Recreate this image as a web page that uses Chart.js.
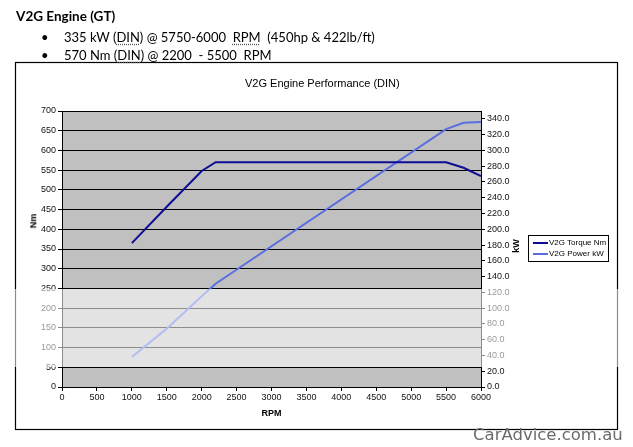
<!DOCTYPE html>
<html>
<head>
<meta charset="utf-8">
<script src="https://cdn.jsdelivr.net/npm/chart.js@4.4.1/dist/chart.umd.min.js"></script>
<style>
  html, body { margin: 0; padding: 0; background: #fff; }
  #wrap { position: relative; width: 633px; height: 447px; overflow: hidden; }
  #c { position: absolute; left: 0; top: 0; }
  .hdr { position: absolute; font-family: Lato, "Open Sans", sans-serif; font-size: 13px; color: #000; white-space: pre; line-height: 18px; }
  .dot { text-decoration: underline dotted #555; text-underline-offset: 2px; }
  .ax { position: absolute; font-family: "Liberation Sans", Arial, sans-serif; font-size: 9px; font-weight: bold; color: #000; transform: rotate(-90deg); transform-origin: center; white-space: pre; }
  #ctitle { position: absolute; left: 245px; top: 77px; font-family: "Liberation Sans", Arial, sans-serif; font-size: 11px; color: #000; white-space: pre; }
  #legend { position: absolute; left: 528px; top: 235px; width: 79px; height: 25px; border: 1px solid #000; background: #fff; font-family: "Liberation Sans", Arial, sans-serif; font-size: 8px; color: #000; }
  .li { position: absolute; left: 4px; height: 11px; line-height: 11px; white-space: pre; }
  .li span.sw { display: inline-block; width: 15px; height: 2px; vertical-align: middle; margin-right: 1px; }
  #brand { position: absolute; left: 473px; top: 425px; font-family: "DejaVu Sans", sans-serif; font-size: 16.5px; color: #6b6b6b; white-space: pre; }
</style>
</head>
<body>
<div id="wrap">
  <canvas id="c" width="633" height="447"></canvas>
  <div class="hdr" style="left:16px; top:7px; font-weight:bold; font-size:13.5px;">V2G Engine (GT)</div>
  <div class="hdr" style="left:41px; top:28px;">•</div>
  <div class="hdr" style="left:64px; top:28px;">335 kW (<span class="dot">DIN</span>) @ 5750-6000  <span class="dot">RPM</span>  (450hp &amp; 422lb/ft)</div>
  <div class="hdr" style="left:41px; top:46px;">•</div>
  <div class="hdr" style="left:64px; top:46px;">570 Nm (<span class="dot">DIN</span>) @ 2200  - 5500  RPM</div>
  <div id="ctitle">V2G Engine Performance (DIN)</div>
  <div class="ax" style="left:26px; top:216px;">Nm</div>
  <div class="ax" style="left:509px; top:241px;">kW</div>
  <div id="legend">
    <div class="li" style="top:1px;"><span class="sw" style="background:#0c0c94"></span>V2G Torque Nm</div>
    <div class="li" style="top:12px;"><span class="sw" style="background:#5a6ee0"></span>V2G Power kW</div>
  </div>
  <div id="brand">CarAdvice.com.au</div>
</div>
<script>
// ---- data ----
const rpmPoints   = [1000, 1500, 2000, 2200, 5500, 5750, 6000];
const torqueNm    = [365, 457, 548, 570, 570, 556, 535];
const powerKw     = [38, 74, 115, 131, 327, 335, 336];
const seriesNames = ['V2G Torque Nm', 'V2G Power kW'];
const kwTicks     = [0, 20, 40, 60, 80, 100, 120, 140, 160, 180, 200, 220, 240, 260, 280, 300, 320, 340];

const torqueData = rpmPoints.map((r, i) => ({ x: r, y: torqueNm[i] }));
const powerData  = rpmPoints.map((r, i) => ({ x: r, y: powerKw[i] }));

const tickFont = { family: '"Liberation Sans", Arial, sans-serif', size: 9 };

const decor = {
  id: 'decor',
  beforeDraw(chart) {
    const { ctx, chartArea: a } = chart;
    ctx.save();
    ctx.fillStyle = '#c0c0c0';
    ctx.fillRect(a.left, a.top, a.right - a.left, a.bottom - a.top);
    ctx.strokeStyle = '#000';
    ctx.lineWidth = 1.2;
    ctx.strokeRect(15.5, 62.5, 602, 367);
    ctx.restore();
  },
  afterDraw(chart) {
    const { ctx } = chart;
    ctx.save();
    ctx.fillStyle = 'rgba(255,255,255,0.55)';
    ctx.fillRect(0, 289, chart.width, 78);
    ctx.restore();
  }
};

new Chart(document.getElementById('c'), {
  type: 'line',
  data: {
    datasets: [
      { label: seriesNames[0], data: torqueData, yAxisID: 'y', borderColor: '#0c0c94', borderWidth: 2, pointRadius: 0, tension: 0, fill: false },
      { label: seriesNames[1], data: powerData, yAxisID: 'y2', borderColor: '#5a6ee0', borderWidth: 2, pointRadius: 0, tension: 0, fill: false }
    ]
  },
  options: {
    responsive: false,
    animation: false,
    devicePixelRatio: 1,
    layout: { padding: { left: 0, right: 112, top: 111, bottom: 28 } },
    plugins: { legend: { display: false }, title: { display: false }, tooltip: { enabled: false } },
    scales: {
      x: {
        type: 'linear', min: 0, max: 6000,
        ticks: { stepSize: 500, font: tickFont, color: '#111', padding: 1, maxRotation: 0, autoSkip: false, callback: v => String(v) },
        grid: { drawOnChartArea: false, drawTicks: true, tickLength: 4, color: '#000' },
        border: { display: true, color: '#000' },
        title: { display: true, text: 'RPM', font: { family: '"Liberation Sans", Arial, sans-serif', size: 9, weight: 'bold' }, color: '#000', padding: { top: 0, bottom: 0 } },
        afterFit(s) { s.height = 32; }
      },
      y: {
        type: 'linear', position: 'left', min: 0, max: 700,
        ticks: { stepSize: 50, font: tickFont, color: '#111', padding: 2 },
        grid: { color: '#000', lineWidth: 1, tickLength: 4, drawTicks: true },
        border: { display: true, color: '#000' },
        afterFit(s) { s.width = 62; }
      },
      y2: {
        type: 'linear', position: 'right', min: 0, max: 350,
        ticks: { font: tickFont, color: '#111', padding: 2, autoSkip: false, callback: v => Number(v).toFixed(1) },
        grid: { drawOnChartArea: false, drawTicks: true, tickLength: 4, color: '#000' },
        border: { display: true, color: '#000' },
        afterBuildTicks(s) { s.ticks = kwTicks.map(v => ({ value: v })); },
        afterFit(s) { s.width = 40; }
      }
    }
  },
  plugins: [decor]
});
</script>
</body>
</html>
